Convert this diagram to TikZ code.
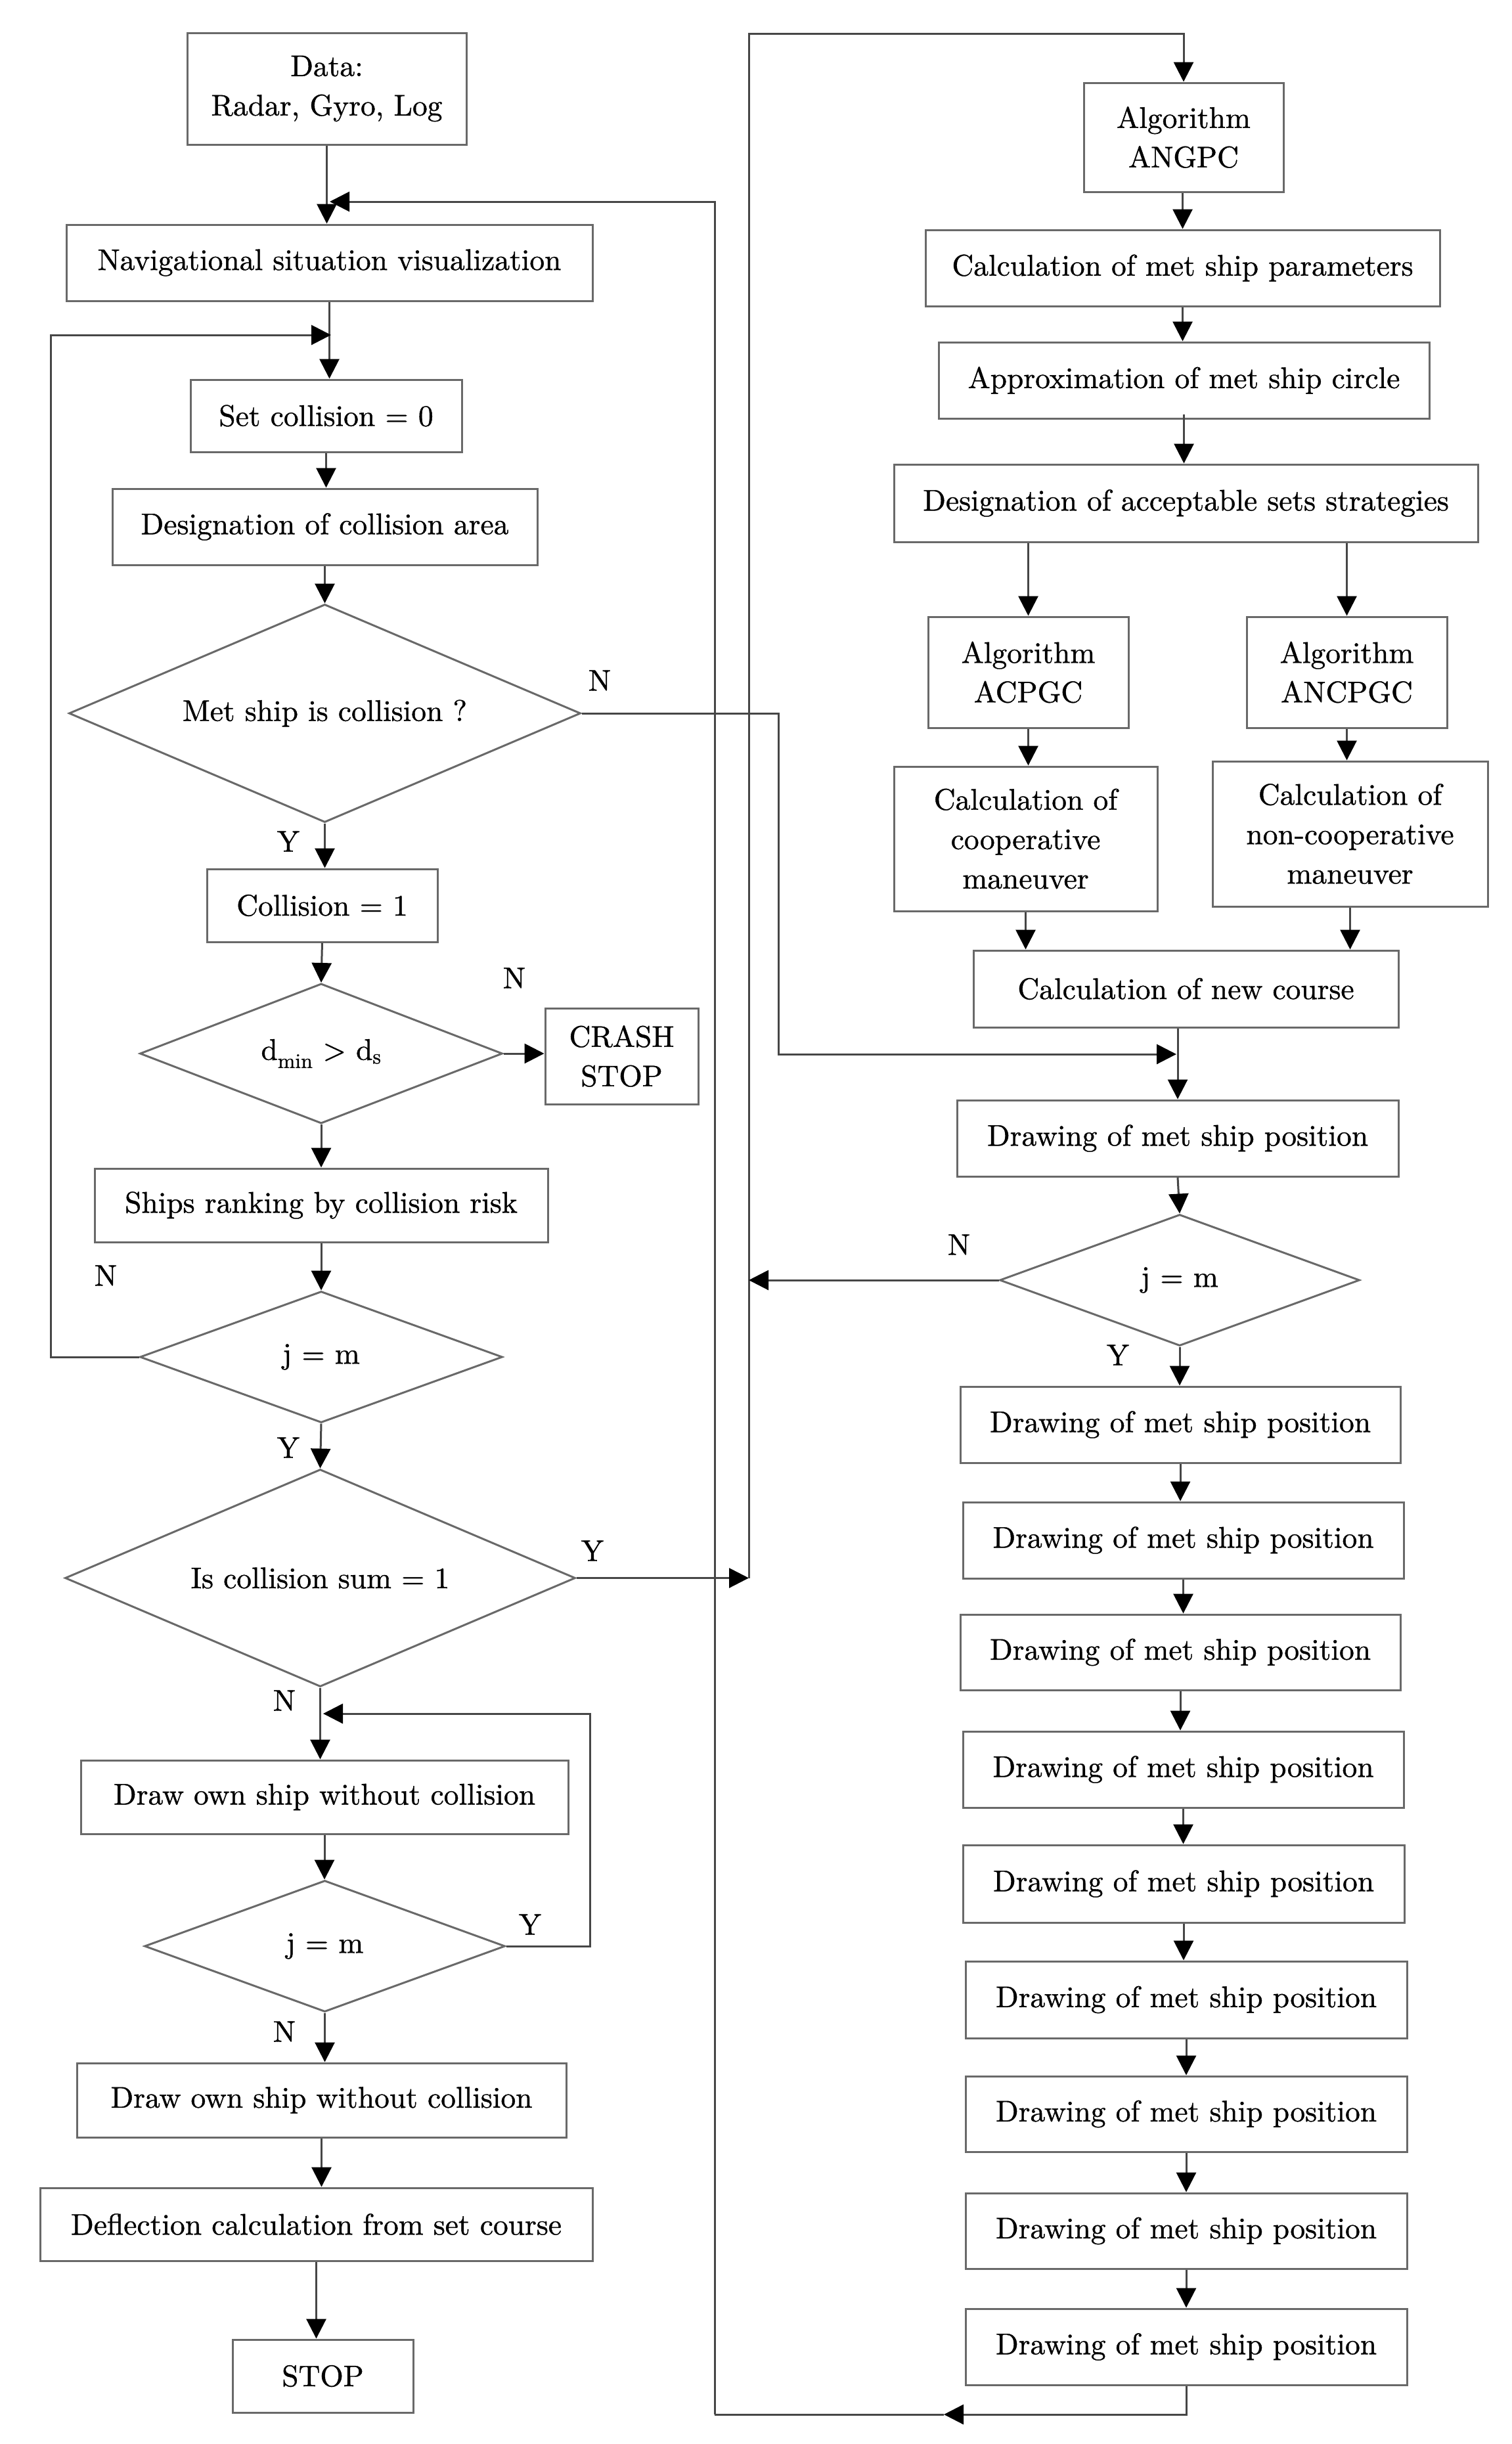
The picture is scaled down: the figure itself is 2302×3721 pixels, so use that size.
\documentclass[tikz,border=0pt]{standalone}
\usepackage{fontspec}
\setmainfont{lmroman10-regular.otf}[FakeBold=0.9]
\usetikzlibrary{arrows.meta,shapes.geometric}
\definecolor{boxc}{RGB}{105,105,105}
\definecolor{linec}{RGB}{70,70,70}
\newcommand{\fs}{\fontsize{45.5}{60}\selectfont}
\begin{document}
\begin{tikzpicture}[x=1pt,y=-1pt,
 box/.style={draw=boxc, line width=3pt, fill=white, inner sep=0pt, align=center, font=\fs},
 dia/.style={diamond, aspect=2.7, draw=boxc, line width=3pt, inner sep=0pt, font=\fs},
 conn/.style={draw=linec, line width=3pt},
 arr/.style={conn, -{Triangle[length=30pt,width=30pt,color=black]}},
 lab/.style={font=\fs, inner sep=0pt}]
\fill[white] (0,0) rectangle (2302,3721);
\useasboundingbox (0,0) rectangle (2302,3721);

% ---------------- left column ----------------
\node[box, minimum width=425pt, minimum height=170pt] (data) at (497.5,135) {Data:\\Radar, Gyro, Log};
\node[box, minimum width=801pt, minimum height=116pt] (nav) at (501.5,400) {Navigational situation visualization};
\node[box, minimum width=413pt, minimum height=110pt] (setc) at (496.5,633) {Set collision = 0};
\node[box, minimum width=647pt, minimum height=116pt] (desig) at (494.5,802) {Designation of collision area};
\node[dia, minimum width=779pt, minimum height=332pt] (d1) at (494.5,1086) {Met ship is collision ?};
\node[box, minimum width=351pt, minimum height=111pt] (coll) at (490.5,1378.5) {Collision = 1};
\node[dia, minimum width=552pt, minimum height=213pt] (d2) at (489,1604) {d\textsubscript{min} \textgreater{} d\textsubscript{s}};
\node[box, minimum width=233pt, minimum height=146pt] (crash) at (946.5,1608) {CRASH\\STOP};
\node[box, minimum width=690pt, minimum height=112pt] (rank) at (489,1835) {Ships ranking by collision risk};
\node[dia, minimum width=552pt, minimum height=200pt] (d3) at (489,2066) {j = m};
\node[dia, minimum width=777pt, minimum height=331pt] (d4) at (487.5,2402.5) {Is collision sum = 1};
\node[box, minimum width=742pt, minimum height=112pt] (own1) at (494,2736) {Draw own ship without collision};
\node[dia, minimum width=549pt, minimum height=200pt] (d5) at (494.5,2963) {j = m};
\node[box, minimum width=745pt, minimum height=113pt] (own2) at (489.5,3197.5) {Draw own ship without collision};
\node[box, minimum width=841pt, minimum height=111pt] (defl) at (481.5,3386.5) {Deflection calculation from set course};
\node[box, minimum width=275pt, minimum height=111pt] (stop) at (491.5,3617.5) {STOP};

% ---------------- right column ----------------
\node[box, minimum width=304pt, minimum height=166pt] (angpc) at (1802,209) {Algorithm\\ANGPC};
\node[box, minimum width=783pt, minimum height=116pt] (params) at (1800.5,408) {Calculation of met ship parameters};
\node[box, minimum width=747pt, minimum height=116pt] (approx) at (1802.5,579) {Approximation of met ship circle};
\node[box, minimum width=889pt, minimum height=118pt] (accept) at (1805.5,766) {Designation of acceptable sets strategies};
\node[box, minimum width=305pt, minimum height=169pt] (acpgc) at (1565.5,1023.5) {Algorithm\\ACPGC};
\node[box, minimum width=305pt, minimum height=169pt] (ancpgc) at (2050.5,1023.5) {Algorithm\\ANCPGC};
\node[box, minimum width=401pt, minimum height=220pt] (coop) at (1561.5,1277) {Calculation of\\cooperative\\maneuver};
\node[box, minimum width=419pt, minimum height=221pt] (noncoop) at (2055.5,1269.5) {Calculation of\\non-cooperative\\maneuver};
\node[box, minimum width=647pt, minimum height=117pt] (newc) at (1805.5,1505.5) {Calculation of new course};
\node[box, minimum width=672pt, minimum height=116pt] (dr1) at (1793,1733) {Drawing of met ship position};
\node[dia, minimum width=548pt, minimum height=200pt] (dr) at (1796,1949) {j = m};
\node[box, minimum width=670pt, minimum height=116pt] (dr2) at (1797,2169) {Drawing of met ship position};
\node[box, minimum width=671pt, minimum height=116pt] (dr3) at (1801.5,2345) {Drawing of met ship position};
\node[box, minimum width=670pt, minimum height=115pt] (dr4) at (1797,2515.5) {Drawing of met ship position};
\node[box, minimum width=671pt, minimum height=116pt] (dr5) at (1801.5,2694) {Drawing of met ship position};
\node[box, minimum width=672pt, minimum height=118pt] (dr6) at (1802,2868) {Drawing of met ship position};
\node[box, minimum width=672pt, minimum height=117pt] (dr7) at (1806,3044.5) {Drawing of met ship position};
\node[box, minimum width=672pt, minimum height=115pt] (dr8) at (1806,3218.5) {Drawing of met ship position};
\node[box, minimum width=672pt, minimum height=115pt] (dr9) at (1806,3396.5) {Drawing of met ship position};
\node[box, minimum width=672pt, minimum height=116pt] (dr10) at (1806,3573) {Drawing of met ship position};

% ---------------- labels ----------------
\node[lab] (l1) at (913,1036) {N};
\node[lab] (l2) at (439,1281) {Y};
\node[lab] (l3) at (783,1489) {N};
\node[lab] (l4) at (161,1942) {N};
\node[lab] (l5) at (439,2204) {Y};
\node[lab] (l6) at (902,2361) {Y};
\node[lab] (l7) at (433,2589) {N};
\node[lab] (l8) at (807,2930) {Y};
\node[lab] (l9) at (433,3093) {N};
\node[lab] (l10) at (1460,1895) {N};
\node[lab] (l11) at (1702,2063) {Y};

% ---------------- coordinates ----------------
\coordinate (m1) at (502,307);
\coordinate (m2) at (504,510);
\coordinate (m4) at (492,2609);
\coordinate (tp) at (1140,51);
\coordinate (n1) at (1185,1086);
\coordinate (n2) at (1185,1605);
\coordinate (m3) at (1791,1605);
\coordinate (la) at (1437,3676);
\coordinate (rl) at (1088,3676);
\coordinate (l3c) at (77,2066);
\coordinate (r5) at (898,2963);
\coordinate (ya) at (1140,2402.5);

% ---------------- left connectors ----------------
\draw[arr] (data.south) -- (data.south |- nav.north);
\draw[arr] (nav.south) -- (nav.south |- setc.north);
\draw[arr] (setc.south) -- (setc.south |- desig.north);
\draw[arr] (desig.south) -- (d1.north);
\draw[arr] (d1.south) -- (d1.south |- coll.north);
\draw[arr] (coll.south) -- (d2.north);
\draw[arr] (d2.east) -- (d2.east -| crash.west);
\draw[arr] (d2.south) -- (rank.north);
\draw[arr] (rank.south) -- (d3.north);
\draw[arr] (d3.south) -- (d4.north);
\draw[arr] (d4.south) -- (d4.south |- own1.north);
\draw[arr] (own1.south) -- (own1.south |- d5.north);
\draw[arr] (d5.south) -- (d5.south |- own2.north);
\draw[arr] (own2.south) -- (own2.south |- defl.north);
\draw[arr] (defl.south) -- (defl.south |- stop.north);

% loops
\draw[arr] (d3.west) -- (l3c) |- (m2);
\draw[arr] (d5.east) -- (r5) |- (m4);
\draw[arr] (dr10.south) |- (la);
\draw[conn] (la) -- (rl);
\draw[arr] (rl) |- (m1);

% ---------------- cross connectors ----------------
\draw[arr] (d1.east) -- (n1) -- (n2) -- (m3);
\draw[arr] (d4.east) -- (ya);
\draw[arr] (ya) -- (tp) -| (angpc.north);
\draw[arr] (dr.west) -- (dr.west -| tp);

% ---------------- right connectors ----------------
\draw[arr] (params.north |- angpc.south) -- (params.north);
\draw[arr] (params.south) -- (params.south |- approx.north);
\draw[arr] ([yshift=8pt]approx.south) -- (approx.south |- accept.north);
\draw[arr] (acpgc.north |- accept.south) -- (acpgc.north);
\draw[arr] (ancpgc.north |- accept.south) -- (ancpgc.north);
\draw[arr] (acpgc.south) -- (acpgc.south |- coop.north);
\draw[arr] (ancpgc.south) -- (ancpgc.south |- noncoop.north);
\draw[arr] (coop.south) -- (coop.south |- newc.north);
\draw[arr] (noncoop.south) -- (noncoop.south |- newc.north);
\draw[arr] (newc.south -| dr1.north) -- (dr1.north);
\draw[arr] (dr1.south) -- (dr.north);
\draw[arr] (dr.south) -- (dr.south |- dr2.north);
\draw[arr] (dr2.south) -- (dr2.south |- dr3.north);
\draw[arr] (dr3.south) -- (dr3.south |- dr4.north);
\draw[arr] (dr4.south) -- (dr4.south |- dr5.north);
\draw[arr] (dr5.south) -- (dr5.south |- dr6.north);
\draw[arr] (dr6.south) -- (dr6.south |- dr7.north);
\draw[arr] (dr7.south) -- (dr7.south |- dr8.north);
\draw[arr] (dr8.south) -- (dr8.south |- dr9.north);
\draw[arr] (dr9.south) -- (dr9.south |- dr10.north);
\end{tikzpicture}
\end{document}
